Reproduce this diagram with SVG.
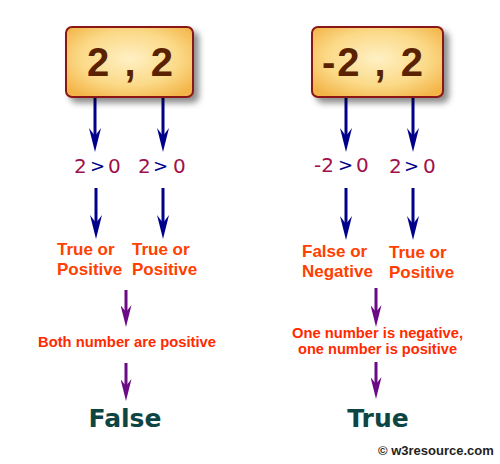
<svg xmlns="http://www.w3.org/2000/svg" width="500" height="464" viewBox="0 0 500 464">
<defs>
<radialGradient id="boxg" cx="50%" cy="45%" r="65%">
<stop offset="0" stop-color="#fff0c4"/>
<stop offset="0.6" stop-color="#fbd987"/>
<stop offset="1" stop-color="#f3b448"/>
</radialGradient>
<filter id="sh" x="-20%" y="-20%" width="150%" height="160%">
<feDropShadow dx="5" dy="5" stdDeviation="3" flood-color="#000" flood-opacity="0.45"/>
</filter>
<marker id="hn" viewBox="-12 -6 24 12" markerWidth="24" markerHeight="12" refX="0" refY="0" orient="auto" markerUnits="userSpaceOnUse">
<path d="M12,0 L-12,-6 L-4,0 L-12,6 Z" fill="#00008b"/>
</marker>
<marker id="hp" viewBox="-11 -5.5 22 11" markerWidth="22" markerHeight="11" refX="0" refY="0" orient="auto" markerUnits="userSpaceOnUse">
<path d="M11,0 L-11,-5.5 L-4,0 L-11,5.5 Z" fill="#6a0a85"/>
</marker>
</defs>
<style>
.box{fill:url(#boxg);stroke:#8b1414;stroke-width:2;filter:url(#sh)}
.big{font-family:"Liberation Sans",Arial,sans-serif;font-weight:bold;font-size:40px;fill:#5a2200;text-anchor:middle}
.num{font-family:"DejaVu Sans",Verdana,sans-serif;font-size:20px;fill:#a0104a}
.op{font-family:"DejaVu Sans",Verdana,sans-serif;font-size:18px;fill:#00008b}
.res{font-family:"Liberation Sans",Arial,sans-serif;font-weight:bold;font-size:17px;fill:#ff4000}
.msg{font-family:"Liberation Sans",Arial,sans-serif;font-weight:bold;font-size:14.5px;fill:#ff2a00;text-anchor:middle}
.fin{font-family:"DejaVu Sans",Verdana,sans-serif;font-weight:bold;font-size:25px;fill:#0d4545;text-anchor:middle}
.an{stroke:#00008b;stroke-width:3;fill:none;marker-end:url(#hn)}
.ap{stroke:#6a0a85;stroke-width:3;fill:none;marker-end:url(#hp)}
.wm{font-family:"Liberation Sans",Arial,sans-serif;font-weight:bold;font-size:13px;fill:#222}
</style>
<rect width="500" height="464" fill="#fff"/>
<g id="connectors">
<line class="an" x1="95" y1="98" x2="95" y2="140"/>
<line class="an" x1="163" y1="98" x2="163" y2="140"/>
<line class="an" x1="346" y1="98" x2="346" y2="140"/>
<line class="an" x1="413" y1="98" x2="413" y2="140"/>
<line class="an" x1="96" y1="188" x2="96" y2="227"/>
<line class="an" x1="163" y1="188" x2="163" y2="227"/>
<line class="an" x1="346" y1="188" x2="346" y2="228"/>
<line class="an" x1="413" y1="188" x2="413" y2="228"/>
<line class="ap" x1="126" y1="290" x2="126" y2="316"/>
<line class="ap" x1="126" y1="363" x2="126" y2="390"/>
<line class="ap" x1="376" y1="288" x2="376" y2="316"/>
<line class="ap" x1="376" y1="362" x2="376" y2="388"/>
</g>
<g id="box-left">
<rect class="box" x="66" y="27" width="127" height="70" rx="6"/>
<text class="big" x="130" y="76" textLength="86" lengthAdjust="spacing">2 , 2</text>
</g>
<g id="box-right">
<rect class="box" x="312" y="27" width="131" height="70" rx="6"/>
<text class="big" x="372.5" y="76" textLength="101" lengthAdjust="spacing">-2 , 2</text>
</g>
<g id="cmp1">
<text class="num" x="74" y="173">2</text><text class="op" x="90" y="172">&gt;</text><text class="num" x="108" y="173">0</text>
</g>
<g id="cmp2">
<text class="num" x="138" y="173">2</text><text class="op" x="153" y="172">&gt;</text><text class="num" x="173" y="173">0</text>
</g>
<g id="cmp3">
<text class="num" x="314" y="172">-2</text><text class="op" x="338" y="171">&gt;</text><text class="num" x="356" y="172">0</text>
</g>
<g id="cmp4">
<text class="num" x="389" y="173">2</text><text class="op" x="404" y="172">&gt;</text><text class="num" x="423" y="173">0</text>
</g>
<g id="res1"><text class="res" x="57" y="255">True or</text><text class="res" x="57" y="275">Positive</text></g>
<g id="res2"><text class="res" x="132" y="255">True or</text><text class="res" x="132" y="275">Positive</text></g>
<g id="res3"><text class="res" x="302" y="257">False or</text><text class="res" x="302" y="277">Negative</text></g>
<g id="res4"><text class="res" x="389" y="258">True or</text><text class="res" x="389" y="278">Positive</text></g>
<g id="msg-left"><text class="msg" x="127" y="347" textLength="178" lengthAdjust="spacingAndGlyphs">Both number are positive</text></g>
<g id="msg-right">
<text class="msg" x="377.5" y="338" textLength="171" lengthAdjust="spacingAndGlyphs">One number is negative,</text>
<text class="msg" x="377.5" y="354" textLength="159" lengthAdjust="spacingAndGlyphs">one number is positive</text>
</g>
<g id="out-left"><text class="fin" x="125" y="427">False</text></g>
<g id="out-right"><text class="fin" x="378" y="427">True</text></g>
<g id="watermark"><text class="wm" x="378" y="455">© w3resource.com</text></g>
</svg>
